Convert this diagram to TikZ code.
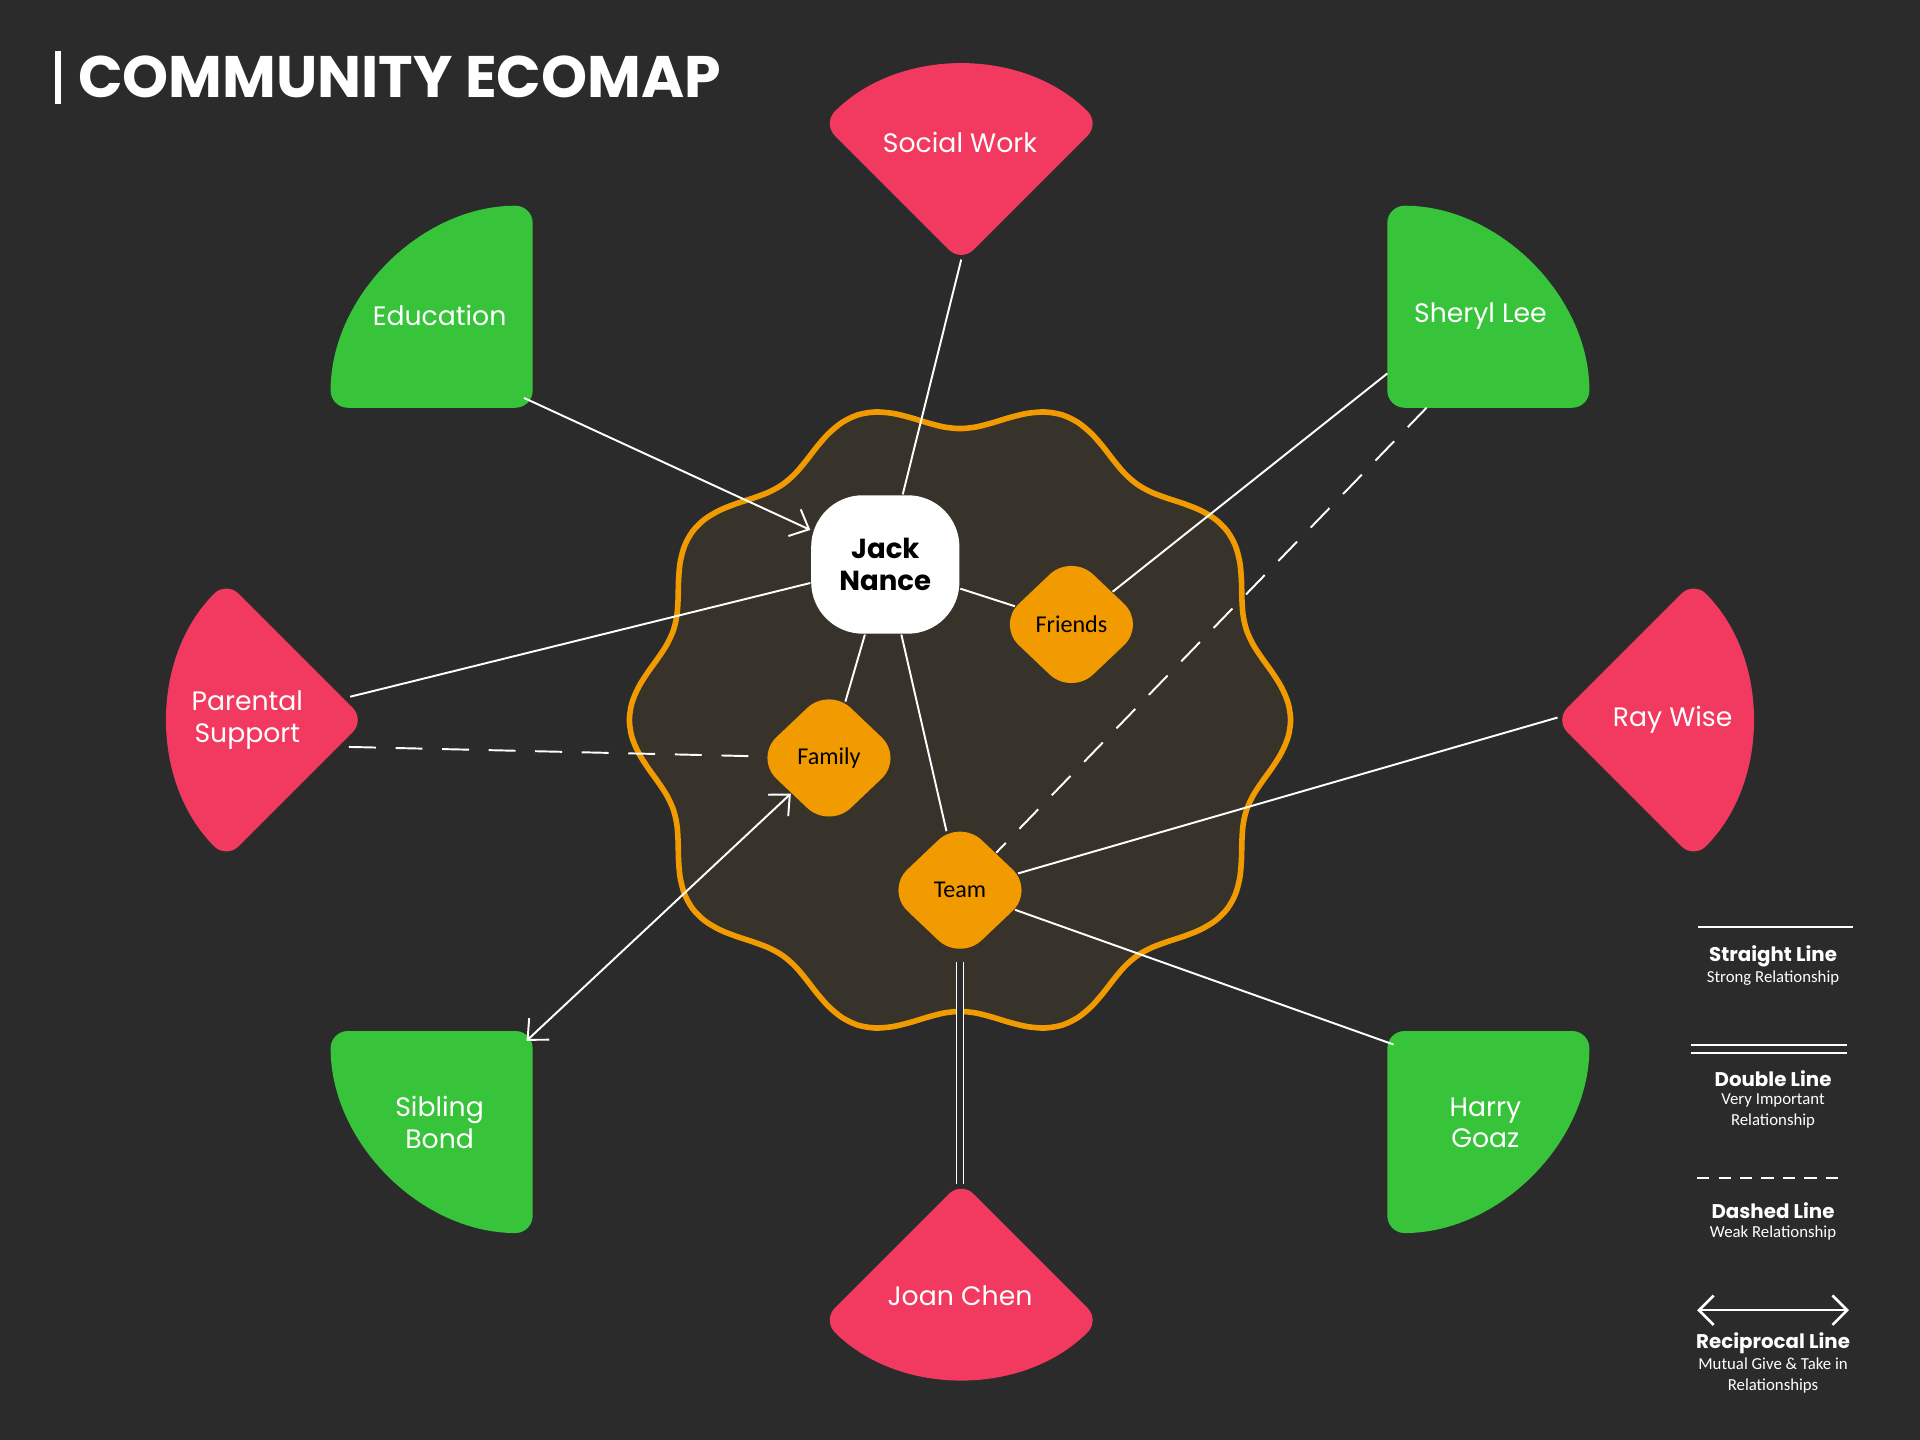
\documentclass[tikz,border=0pt]{standalone}
\usepackage{fontspec}
\setmainfont{Poppins}
\newfontfamily\carl{Carlito}
\usetikzlibrary{shapes.geometric,arrows.meta}
\definecolor{bg}{HTML}{2B2B2B}
\definecolor{pinkc}{HTML}{F2395F}
\definecolor{greenc}{HTML}{38C43A}
\definecolor{orangec}{HTML}{F29B00}
\definecolor{blobc}{HTML}{37322A}
\begin{document}
\begin{tikzpicture}[x=0.01cm,y=-0.01cm,
  lbl/.style={text=white,font=\fontsize{6.2}{7.4}\selectfont,align=center},
  pinkshape/.style={fill=pinkc,rounded corners=4pt},
  greenshape/.style={fill=greenc,rounded corners=4pt},
  innernode/.style={diamond,fill=orangec,minimum width=1.22cm,minimum height=1.16cm,inner sep=0pt,rounded corners=7pt,font=\carl\fontsize{5.6}{6.5}\selectfont,text=black},
  conn/.style={draw=white,line width=0.45pt},
  weak/.style={conn,dash pattern=on 2.2mm off 1.6mm},
  arr/.style={-{Straight Barb[length=1.3mm,width=2.4mm]}},
  legb/.style={text=white,font=\bfseries\fontsize{4.6}{5.5}\selectfont},
  legs/.style={text=white,font=\carl\fontsize{3.9}{4.9}\selectfont,align=center}]
\fill[bg] (0,0) rectangle (1568,1176);
\useasboundingbox (0,0) rectangle (1568,1176);
% title
\fill[white] (45,42) rectangle (50,85);
\node[anchor=west,text=white,font=\bfseries\fontsize{13.6}{15}\selectfont,inner sep=0] (title) at (63,63) {COMMUNITY ECOMAP};
% blob
\draw[fill=blobc,draw=orangec,line width=1.3pt] plot[smooth cycle,domain=0:357,samples=120,variable=\t] ({784+(258+12*cos(10*\t))*cos(\t)},{588+(250+12*cos(10*\t))*sin(\t)});
% pink shapes (sectors)
\path[pinkshape] (785,214) -- ++(-135:160) arc[start angle=-135,end angle=-45,radius=160] -- cycle;
\path[pinkshape] (785,965) -- ++(45:160) arc[start angle=45,end angle=135,radius=160] -- cycle;
\path[pinkshape] (298,588) -- ++(135:160) arc[start angle=135,end angle=225,radius=160] -- cycle;
\path[pinkshape] (1270,588) -- ++(-45:160) arc[start angle=-45,end angle=45,radius=160] -- cycle;
% green shapes (quarter squares)
\path[greenshape] (435,333) -- (270,333) arc[start angle=180,end angle=270,radius=165] -- cycle;
\path[greenshape] (1133,333) -- (1133,168) arc[start angle=270,end angle=360,radius=165] -- cycle;
\path[greenshape] (435,842) -- (435,1007) arc[start angle=90,end angle=180,radius=165] -- cycle;
\path[greenshape] (1133,842) -- (1298,842) arc[start angle=0,end angle=90,radius=165] -- cycle;
% labels of outer shapes
\node[lbl] (sw) at (784,116) {Social Work};
\node[lbl] (jc) at (784,1058) {Joan Chen};
\node[lbl] (ps) at (202,588) {Parental\\Support};
\node[lbl] (rw) at (1366,588) {Ray Wise};
\node[lbl] (ed) at (359,258) {Education};
\node[lbl] (sl) at (1209,258) {Sheryl Lee};
\node[lbl] (sb) at (359,917) {Sibling\\Bond};
\node[lbl] (hg) at (1213,917) {Harry\\Goaz};
% connector end points on outer shapes
\coordinate (swP) at (785,212);
\coordinate (jcP) at (784,967);
\coordinate (psA) at (286,569);
\coordinate (psB) at (285,610);
\coordinate (rwP) at (1272,586);
\coordinate (edP) at (428,325);
\coordinate (slA) at (1133,305);
\coordinate (slB) at (1165,333);
\coordinate (sbP) at (430,850);
\coordinate (hgP) at (1138,853);
% inner nodes
\node[fill=white,minimum width=1.21cm,minimum height=1.13cm,rounded corners=12pt,inner sep=0,align=center,font=\bfseries\fontsize{6.4}{7.6}\selectfont,text=black] (jack) at (723,461) {Jack\\Nance};
\node[innernode] (fr) at (875,510) {Friends};
\node[innernode] (fa) at (677,619) {Family};
\node[innernode] (te) at (784,727) {Team};
% connectors
\draw[conn] (swP) -- (jack);
\draw[conn,arr] (edP) -- (jack);
\draw[conn] (psA) -- (jack);
\draw[conn] (slA) -- (fr);
\draw[weak] (slB) -- (te);
\draw[weak] (psB) -- (fa);
\draw[conn] (jack) -- (fr);
\draw[conn] (jack) -- (fa);
\draw[conn] (jack) -- (te);
\draw[conn,{Straight Barb[length=1.3mm,width=2.4mm]}-{Straight Barb[length=1.3mm,width=2.4mm]}] (sbP) -- (fa);
\draw[conn] (te) -- (rwP);
\draw[conn] (te) -- (hgP);
\draw[draw=white,line width=0.4pt,double=bg,double distance=0.045cm] (te.south) -- (jcP);
% legend
\coordinate (l1a) at (1387,757); \coordinate (l1b) at (1513,757);
\draw[conn,line width=0.6pt] (l1a) -- (l1b);
\node[legb] (lt1) at (1448,781) {Straight Line};
\node[legs] (ls1) at (1448,799) {Strong Relationship};
\coordinate (l2a) at (1381,856.5); \coordinate (l2b) at (1508,856.5);
\draw[draw=white,line width=0.5pt,double=bg,double distance=0.045cm] (l2a) -- (l2b);
\node[legb] (lt2) at (1448,881) {Double Line};
\node[legs] (ls2) at (1448,907) {Very Important\\Relationship};
\coordinate (l3a) at (1386,962); \coordinate (l3b) at (1505,962);
\draw[conn,line width=0.6pt,dash pattern=on 1mm off 0.75mm] (l3a) -- (l3b);
\node[legb] (lt3) at (1448,989) {Dashed Line};
\node[legs] (ls3) at (1448,1007) {Weak Relationship};
\coordinate (l4a) at (1386,1070); \coordinate (l4b) at (1510,1070);
\draw[conn,line width=0.6pt,{Straight Barb[length=1.2mm,width=2.4mm]}-{Straight Barb[length=1.2mm,width=2.4mm]}] (l4a) -- (l4b);
\node[legb] (lt4) at (1448,1097) {Reciprocal Line};
\node[legs] (ls4) at (1448,1123) {Mutual Give \& Take in\\Relationships};
\end{tikzpicture}
\end{document}
